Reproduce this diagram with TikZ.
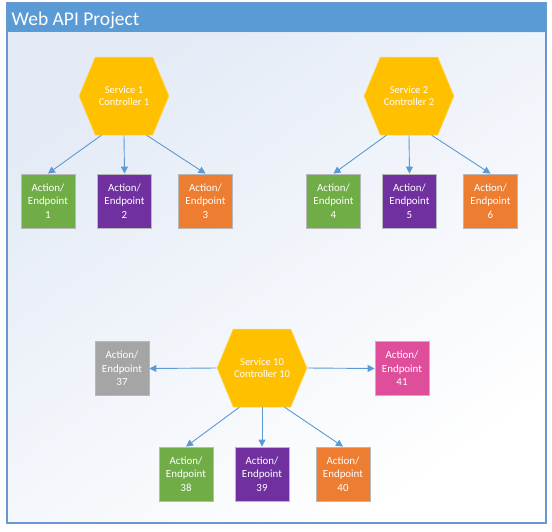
\documentclass[tikz,border=0pt]{standalone}
\usepackage{fontspec}
\setmainfont{Carlito}
\usepackage{tikz}
\usetikzlibrary{arrows.meta,positioning,calc,shapes.symbols}
\definecolor{cTitle}{HTML}{5B9BD5}
\definecolor{cFrame}{HTML}{6A98CE}
\definecolor{cBg}{HTML}{E4EBF6}
\definecolor{cSvc}{HTML}{FFC000}
\definecolor{cGreen}{HTML}{70AD47}
\definecolor{cPurple}{HTML}{7030A0}
\definecolor{cOrange}{HTML}{ED7D31}
\definecolor{cGrey}{HTML}{A5A5A5}
\definecolor{cPink}{HTML}{DF4E9B}
\definecolor{cArrow}{HTML}{5B9BD5}
\tikzset{
  svc/.style={shape=signal, signal to=west and east, signal pointer angle=135,
              fill=cSvc, draw=cSvc!55!white, line width=0.5pt,
              minimum width=90pt, minimum height=78pt, inner sep=0pt,
              text=white, align=center, font=\fontsize{10.5}{12.7}\selectfont},
  act/.style={draw=white!72!black, line width=0.8pt, minimum size=54pt, inner sep=0pt,
              text=white, align=center, font=\fontsize{10.9}{13.3}\selectfont},
  arr/.style={-{Triangle[length=7pt,width=7pt]}, line width=0.9pt, cArrow}
}

\begin{document}
\begin{tikzpicture}[x=1pt, y=-1pt]
\useasboundingbox (0,0) rectangle (552,531);
% frame and title bar
\shade[top color=cBg, bottom color=white, shading angle=35] (7,32) rectangle (546,523);
\fill[cTitle] (7,3) rectangle (546,32);
\draw[white!80!cTitle, line width=0.8pt] (7,32) -- (546,32);
\draw[cFrame, line width=1.3pt] (7,3) rectangle (546,523);
\node[anchor=base west, inner sep=0pt, text=white, font=\fontsize{19.5}{23}\selectfont]
  (title) at (11.5,25) {Web API Project};
% service 1
\node[svc] (s1) at (124,96) {Service 1\\Controller 1};
\foreach \n/\x/\c in {1/48/cGreen, 2/124.5/cPurple, 3/205.5/cOrange}
  \node[act, fill=\c] (a\n) at (\x,201) {Action/\\Endpoint\\\n};
\draw[arr] (s1.240) -- (a1.north);
\draw[arr] (s1.south) -- (a2.north);
\draw[arr] (s1.300) -- (a3.north);
% service 2
\node[svc] (s2) at (409,96) {Service 2\\Controller 2};
\foreach \n/\x/\c in {4/333.5/cGreen, 5/409.5/cPurple, 6/490.5/cOrange}
  \node[act, fill=\c] (a\n) at (\x,201) {Action/\\Endpoint\\\n};
\draw[arr] (s2.240) -- (a4.north);
\draw[arr] (s2.south) -- (a5.north);
\draw[arr] (s2.300) -- (a6.north);
% service 10
\node[svc] (s10) at (262,368) {Service 10\\Controller 10};
\node[act, fill=cGrey] (a37) at (122,368.5) {Action/\\Endpoint\\37};
\node[act, fill=cPink] (a41) at (402,368.5) {Action/\\Endpoint\\41};
\foreach \n/\x/\c in {38/186/cGreen, 39/262/cPurple, 40/343/cOrange}
  \node[act, fill=\c] (a\n) at (\x,474) {Action/\\Endpoint\\\n};
\draw[arr] (s10.west) -- (a37.east);
\draw[arr] (s10.east) -- (a41.west);
\draw[arr] (s10.240) -- (a38.north);
\draw[arr] (s10.south) -- (a39.north);
\draw[arr] (s10.300) -- (a40.north);
\end{tikzpicture}
\end{document}
